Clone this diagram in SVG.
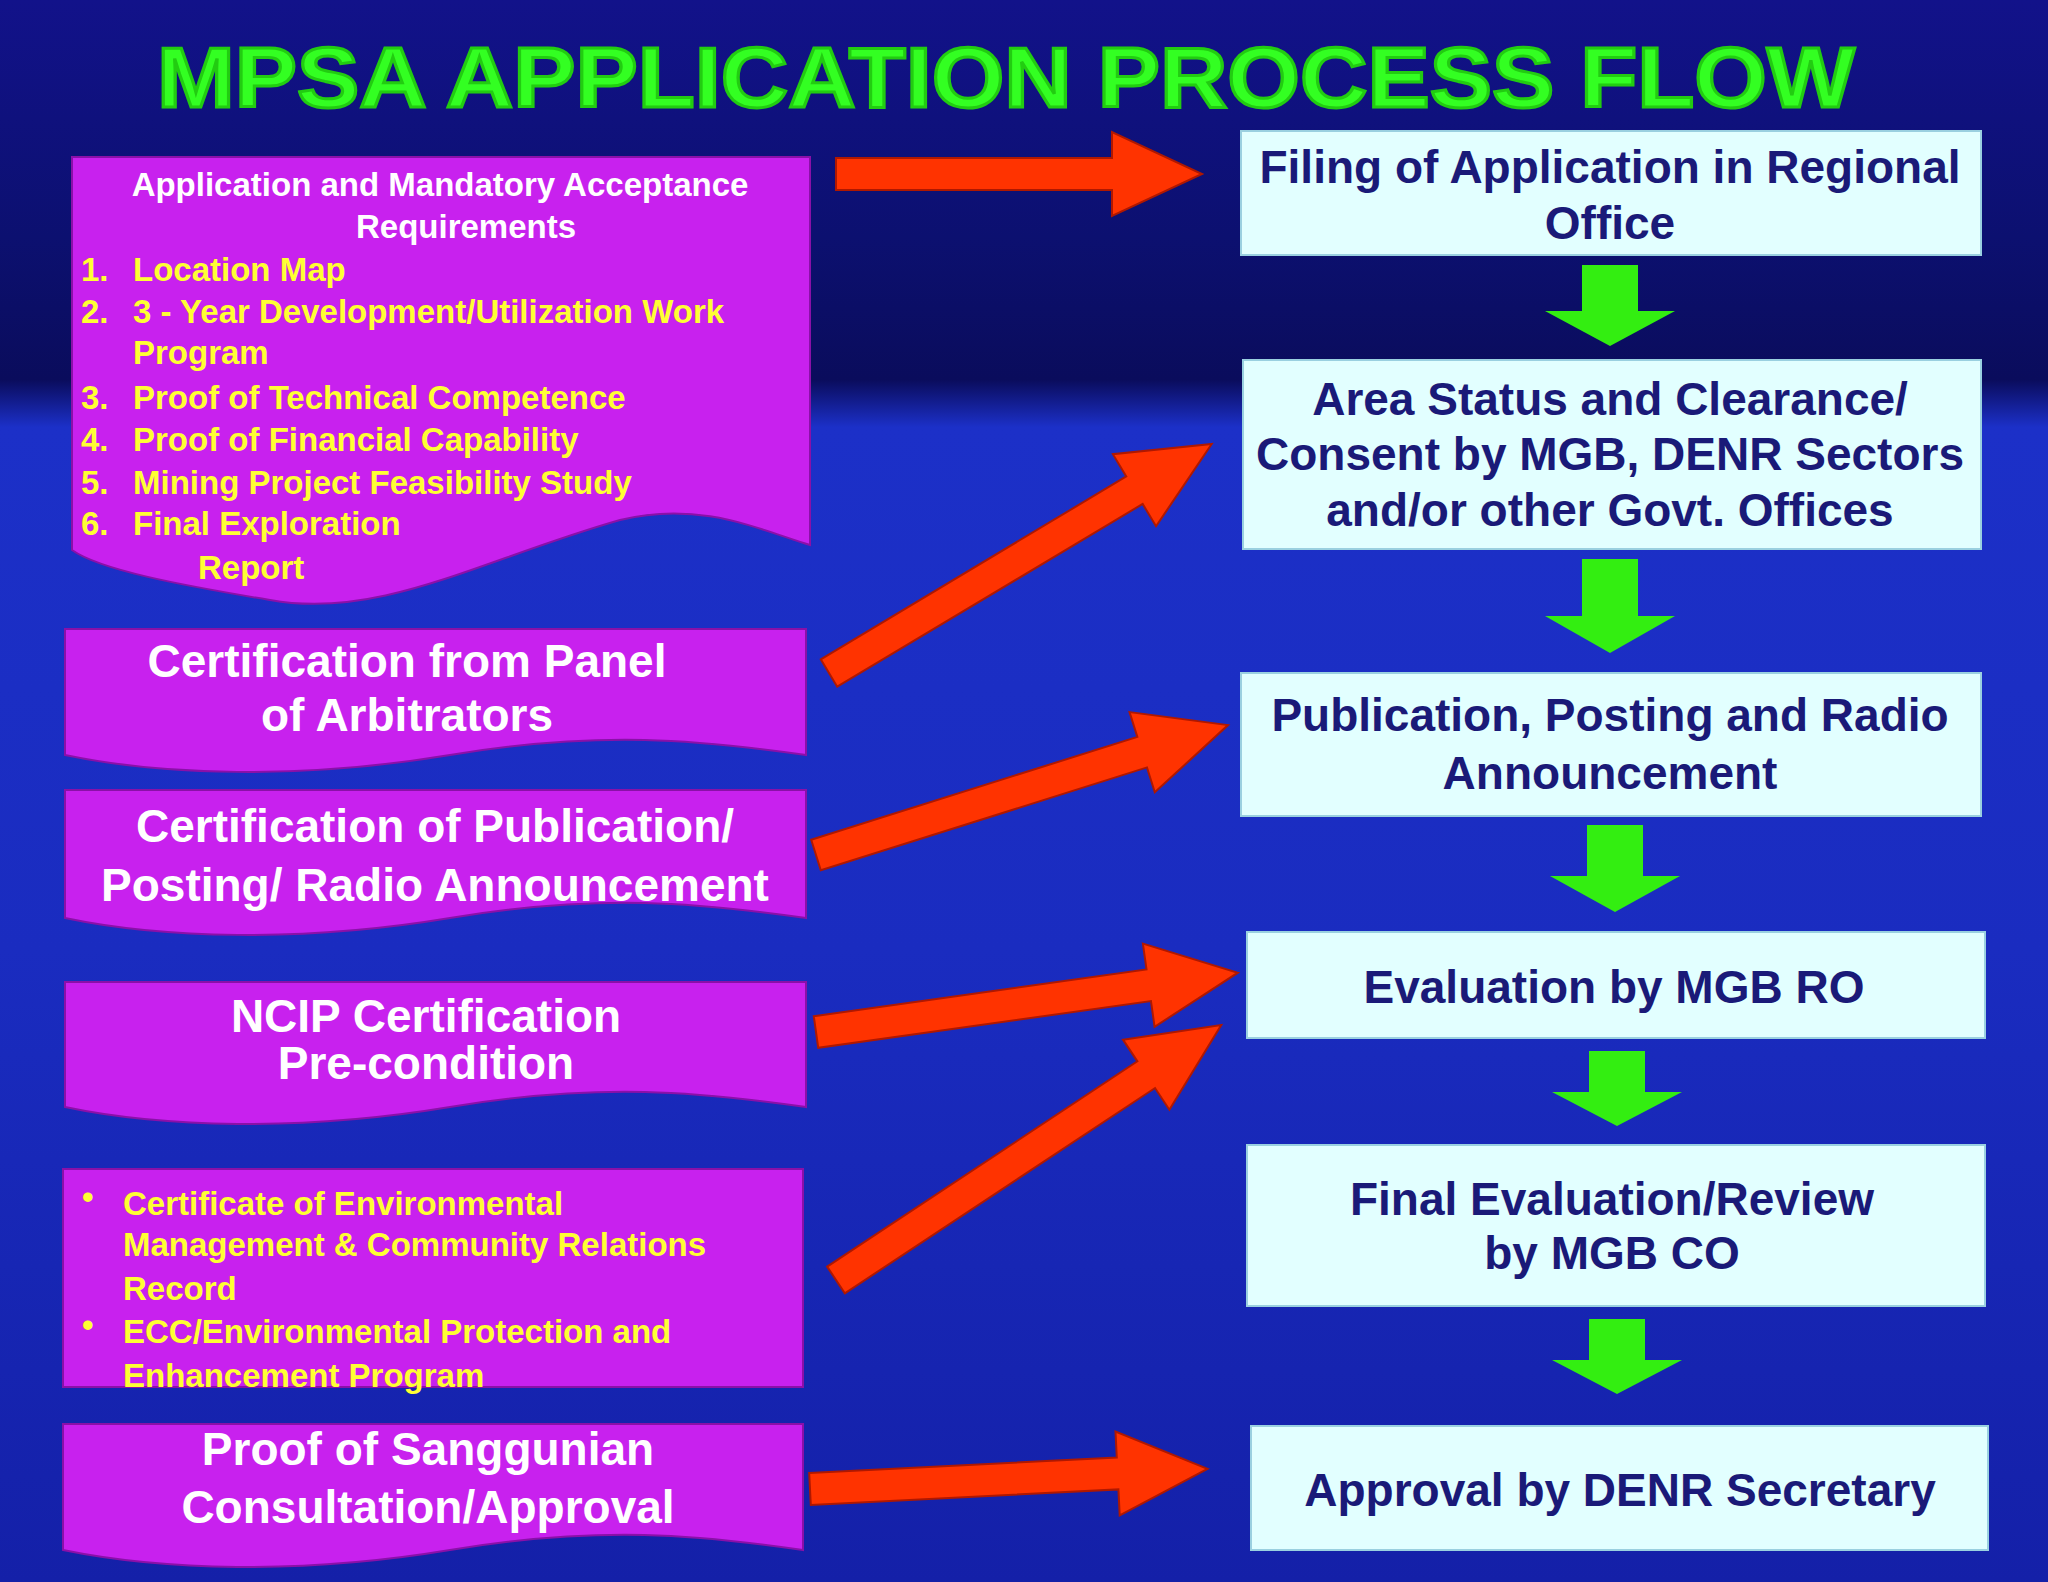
<svg xmlns="http://www.w3.org/2000/svg" width="2048" height="1582" viewBox="0 0 2048 1582">
<defs>
<linearGradient id="bg" x1="0" y1="0" x2="0" y2="1">
<stop offset="0" stop-color="#12128a"/><stop offset="0.15" stop-color="#0c1070"/><stop offset="0.24" stop-color="#0a0c5c"/><stop offset="0.27" stop-color="#1c30c8"/><stop offset="0.6" stop-color="#1a2cc0"/><stop offset="1" stop-color="#1420a8"/>
</linearGradient>
<marker id="m" markerWidth="1" markerHeight="1"/>
</defs>
<style>
.mag{fill:#c821ee;stroke:#8a10a8;stroke-width:2}
.box{fill:#e2ffff;stroke:#9ad0e0;stroke-width:2}
.rt{font-family:"Liberation Sans",Arial,sans-serif;font-weight:bold;font-size:46px;fill:#1a1a78;text-anchor:middle}
.wt{font-family:"Liberation Sans",Arial,sans-serif;font-weight:bold;font-size:46px;fill:#ffffff;text-anchor:middle}
.hw{font-family:"Liberation Sans",Arial,sans-serif;font-weight:bold;font-size:33px;fill:#ffffff;text-anchor:middle}
.yt{font-family:"Liberation Sans",Arial,sans-serif;font-weight:bold;font-size:33px;fill:#ffff33}
.red{fill:#ff3300;stroke:#b01800;stroke-width:2}
.grn{fill:#33ee11}
</style>
<rect width="2048" height="1582" fill="url(#bg)"/>
<text x="1006" y="107" font-family="Liberation Sans,Arial,sans-serif" font-weight="bold" font-size="86" fill="#33ff22" stroke="#22cc11" stroke-width="3" text-anchor="middle" textLength="1698" lengthAdjust="spacingAndGlyphs">MPSA APPLICATION PROCESS FLOW</text>

<g id="left-a"><path class="mag" d="M72,157 H810 V545 C760,530 700,500 620,520 C480,560 380,620 270,600 C180,585 100,570 72,550 Z"/>
<text class="hw" x="440" y="196">Application and Mandatory Acceptance</text>
<text class="hw" x="466" y="238">Requirements</text>
<text class="yt" x="81" y="281">1.</text><text class="yt" x="133" y="281">Location Map</text>
<text class="yt" x="81" y="323">2.</text><text class="yt" x="133" y="323">3 - Year Development/Utilization Work</text>
<text class="yt" x="133" y="364">Program</text>
<text class="yt" x="81" y="409">3.</text><text class="yt" x="133" y="409">Proof of Technical Competence</text>
<text class="yt" x="81" y="451">4.</text><text class="yt" x="133" y="451">Proof of Financial Capability</text>
<text class="yt" x="81" y="494">5.</text><text class="yt" x="133" y="494">Mining Project Feasibility Study</text>
<text class="yt" x="81" y="535">6.</text><text class="yt" x="133" y="535">Final Exploration</text>
<text class="yt" x="198" y="579">Report</text></g>

<g id="left-b"><path class="mag" d="M65,629 H806 V755 C700,740 600,730 450,755 C300,780 160,775 65,755 Z"/>
<text class="wt" x="407" y="677">Certification from Panel</text><text class="wt" x="407" y="731">of Arbitrators</text></g>
<g id="left-c"><path class="mag" d="M65,790 H806 V918 C700,903 600,893 450,918 C300,943 160,938 65,918 Z"/>
<text class="wt" x="435" y="842">Certification of Publication/</text><text class="wt" x="435" y="901">Posting/ Radio Announcement</text></g>
<g id="left-d"><path class="mag" d="M65,982 H806 V1107 C700,1092 600,1082 450,1107 C300,1132 160,1127 65,1107 Z"/>
<text class="wt" x="426" y="1032">NCIP Certification</text><text class="wt" x="426" y="1079">Pre-condition</text></g>
<g id="left-e"><rect class="mag" x="63" y="1169" width="740" height="218"/>
<text class="yt" x="82" y="1208" font-size="26">•</text><text class="yt" x="123" y="1215">Certificate of Environmental</text>
<text class="yt" x="123" y="1256">Management &amp; Community Relations</text>
<text class="yt" x="123" y="1300">Record</text>
<text class="yt" x="82" y="1336" font-size="26">•</text><text class="yt" x="123" y="1343">ECC/Environmental Protection and</text>
<text class="yt" x="123" y="1387">Enhancement Program</text></g>
<g id="left-f"><path class="mag" d="M63,1424 H803 V1550 C700,1535 600,1525 450,1550 C300,1575 160,1570 63,1550 Z"/>
<text class="wt" x="428" y="1465">Proof of Sanggunian</text><text class="wt" x="428" y="1523">Consultation/Approval</text></g>

<g id="r1"><rect class="box" x="1241" y="131" width="740" height="124"/><text class="rt" x="1610" y="183">Filing of Application in Regional</text><text class="rt" x="1610" y="239">Office</text></g>
<g id="r2"><rect class="box" x="1243" y="360" width="738" height="189"/><text class="rt" x="1610" y="415">Area Status and Clearance/</text><text class="rt" x="1610" y="470">Consent by MGB, DENR Sectors</text><text class="rt" x="1610" y="526">and/or other Govt. Offices</text></g>
<g id="r3"><rect class="box" x="1241" y="673" width="740" height="143"/><text class="rt" x="1610" y="731">Publication, Posting and Radio</text><text class="rt" x="1610" y="789">Announcement</text></g>
<g id="r4"><rect class="box" x="1247" y="932" width="738" height="106"/><text class="rt" x="1614" y="1003">Evaluation by MGB RO</text></g>
<g id="r5"><rect class="box" x="1247" y="1145" width="738" height="161"/><text class="rt" x="1612" y="1215">Final Evaluation/Review</text><text class="rt" x="1612" y="1269">by MGB CO</text></g>
<g id="r6"><rect class="box" x="1251" y="1426" width="737" height="124"/><text class="rt" x="1620" y="1506">Approval by DENR Secretary</text></g>

<g id="connectors">
<path class="grn" d="M1582,265 H1638 V311 H1675 L1610,346 L1545,311 H1582 Z"/>
<path class="grn" d="M1582,559 H1638 V616 H1675 L1610,653 L1545,616 H1582 Z"/>
<path class="grn" d="M1587,825 H1643 V876 H1680 L1615,912 L1550,876 H1587 Z"/>
<path class="grn" d="M1589,1051 H1645 V1092 H1682 L1617,1126 L1552,1092 H1589 Z"/>
<path class="grn" d="M1589,1319 H1645 V1360 H1682 L1617,1394 L1552,1360 H1589 Z"/>
<path class="red" transform="translate(836,174)" d="M0,-16 H276 V-42 L366,0 L276,42 V16 H0 Z"/>
<path class="red" transform="translate(829,673) rotate(-30.9)" d="M0,-16 H356 V-42 L446,0 L356,42 V16 H0 Z"/>
<path class="red" transform="translate(816,855) rotate(-17.5)" d="M0,-16 H342 V-42 L432,0 L342,42 V16 H0 Z"/>
<path class="red" transform="translate(816,1032) rotate(-8)" d="M0,-16 H336 V-42 L426,0 L336,42 V16 H0 Z"/>
<path class="red" transform="translate(836,1280) rotate(-33.5)" d="M0,-16 H372 V-42 L462,0 L372,42 V16 H0 Z"/>
<path class="red" transform="translate(810,1489) rotate(-2.9)" d="M0,-16 H308 V-42 L398,0 L308,42 V16 H0 Z"/>
</g>
</svg>
